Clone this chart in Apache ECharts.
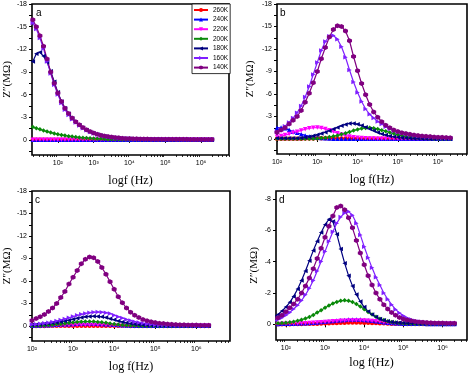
<!DOCTYPE html>
<html>
<head>
<meta charset="utf-8">
<script src="https://cdn.jsdelivr.net/npm/echarts@6/dist/echarts.min.js"></script>
<style>html,body{margin:0;padding:0;background:#fff}#c{width:474px;height:374px}</style>
</head>
<body>
<div id="c"></div>
<script>
// Frequencies (Hz)
const freq = [20, 25.1, 31.6, 39.8, 50.1, 63.1, 79.4,
  100, 126, 158, 200, 251, 316, 398, 501, 631, 794,
  1000, 1259, 1585, 1995, 2512, 3162, 3981, 5012, 6310, 7943,
  10000, 12589, 15849, 19953, 25119, 31623, 39811, 50119, 63096, 79433,
  100000, 125893, 158489, 199526, 251189, 316228, 398107, 501187, 630957, 794328,
  1000000, 1258925, 1584893, 1995262];

const names = ['260K', '240K', '220K', '200K', '180K', '160K', '140K'];

// Panel a
const a260 = [-0.01,-0.01,-0.01,-0.01,-0.01,-0.01,-0.01,
  -0.01,-0.01,-0.01,-0.01,-0.01,-0.01,-0.01,-0.01,-0.01,-0.01,
  -0.01,-0.01,-0.01,-0.01,-0.01,-0.01,-0.01,-0.01,-0.01,-0.01,
  -0.01,-0.01,-0.01,-0.01,-0.01,-0.01,-0.01,-0.01,-0.01,-0.01,
  -0.01,-0.01,-0.01,-0.01,-0.01,-0.01,-0.01,-0.01,-0.01,-0.01,
  -0.01,-0.01,-0.01,-0.01];
const a240 = [-0.02,-0.02,-0.02,-0.02,-0.02,-0.02,-0.02,
  -0.02,-0.02,-0.02,-0.02,-0.02,-0.02,-0.02,-0.02,-0.02,-0.02,
  -0.02,-0.02,-0.02,-0.02,-0.02,-0.02,-0.02,-0.02,-0.02,-0.02,
  -0.02,-0.02,-0.02,-0.02,-0.02,-0.02,-0.02,-0.02,-0.02,-0.02,
  -0.02,-0.02,-0.02,-0.02,-0.02,-0.02,-0.02,-0.02,-0.02,-0.02,
  -0.02,-0.02,-0.02,-0.02];
const a220 = [-0.03,-0.03,-0.03,-0.03,-0.03,-0.03,-0.03,
  -0.03,-0.03,-0.03,-0.03,-0.03,-0.03,-0.03,-0.03,-0.03,-0.03,
  -0.03,-0.03,-0.03,-0.03,-0.03,-0.03,-0.03,-0.03,-0.03,-0.03,
  -0.03,-0.03,-0.03,-0.03,-0.03,-0.03,-0.03,-0.03,-0.03,-0.03,
  -0.03,-0.03,-0.03,-0.03,-0.03,-0.03,-0.03,-0.03,-0.03,-0.03,
  -0.03,-0.03,-0.03,-0.03];
const a200 = [-1.7,-1.55,-1.4,-1.25,-1.1,-0.98,-0.86,
  -0.75,-0.66,-0.58,-0.5,-0.44,-0.38,-0.33,-0.29,-0.25,-0.22,
  -0.19,-0.16,-0.14,-0.12,-0.1,-0.09,-0.08,-0.07,-0.06,-0.06,
  -0.05,-0.05,-0.05,-0.05,-0.05,-0.05,-0.05,-0.05,-0.05,-0.05,
  -0.04,-0.04,-0.04,-0.04,-0.04,-0.04,-0.04,-0.04,-0.04,-0.04,
  -0.04,-0.04,-0.04,-0.04];
const a180 = [-10.4,-11.4,-11.6,-11.1,-10.3,-9.1,-7.7,
  -6.3,-5.1,-4.2,-3.45,-2.85,-2.35,-1.95,-1.6,-1.3,-1.05,
  -0.85,-0.7,-0.57,-0.47,-0.39,-0.32,-0.27,-0.22,-0.19,-0.16,
  -0.14,-0.12,-0.11,-0.1,-0.09,-0.08,-0.08,-0.07,-0.07,-0.06,
  -0.06,-0.06,-0.05,-0.05,-0.05,-0.05,-0.05,-0.04,-0.04,-0.04,
  -0.04,-0.04,-0.04,-0.04];
const a160 = [-15.5,-14.7,-13.5,-12.1,-10.4,-8.8,-7.3,
  -6.0,-4.9,-4.0,-3.3,-2.75,-2.3,-1.9,-1.55,-1.28,-1.05,
  -0.86,-0.72,-0.6,-0.5,-0.42,-0.35,-0.3,-0.26,-0.22,-0.19,
  -0.17,-0.15,-0.13,-0.12,-0.11,-0.1,-0.1,-0.09,-0.09,-0.08,
  -0.08,-0.07,-0.07,-0.07,-0.06,-0.06,-0.06,-0.06,-0.05,-0.05,
  -0.05,-0.05,-0.05,-0.05];
const a140 = [-15.9,-15.0,-13.8,-12.4,-10.7,-9.0,-7.5,
  -6.2,-5.1,-4.2,-3.5,-2.9,-2.4,-2.0,-1.65,-1.35,-1.1,
  -0.9,-0.75,-0.62,-0.52,-0.44,-0.37,-0.31,-0.27,-0.23,-0.2,
  -0.18,-0.16,-0.14,-0.13,-0.12,-0.11,-0.1,-0.1,-0.09,-0.09,
  -0.08,-0.08,-0.08,-0.07,-0.07,-0.07,-0.07,-0.06,-0.06,-0.06,
  -0.06,-0.06,-0.05,-0.05];

// Panel b
const b260 = [null,null,null,null,null,null,null,
  -0.02,-0.02,-0.02,-0.03,-0.03,-0.04,-0.05,-0.06,-0.07,-0.08,
  -0.09,-0.1,-0.1,-0.1,-0.09,-0.08,-0.07,-0.06,-0.05,-0.04,
  -0.03,-0.03,-0.02,-0.02,-0.02,-0.02,-0.02,-0.02,-0.02,-0.02,
  -0.02,-0.02,-0.02,-0.02,-0.02,-0.02,-0.02,-0.02,-0.02,-0.02,
  -0.02,-0.02,-0.02,-0.02];
const b240 = [null,null,null,null,null,null,null,
  -1.5,-1.52,-1.42,-1.22,-1.0,-0.82,-0.64,-0.48,-0.35,-0.25,
  -0.18,-0.13,-0.09,-0.07,-0.05,-0.04,-0.03,-0.03,-0.03,-0.03,
  -0.02,-0.02,-0.02,-0.02,-0.02,-0.02,-0.02,-0.02,-0.02,-0.02,
  -0.02,-0.02,-0.02,-0.02,-0.02,-0.02,-0.02,-0.02,-0.02,-0.02,
  -0.02,-0.02,-0.02,-0.02];
const b220 = [null,null,null,null,null,null,null,
  -0.3,-0.4,-0.52,-0.66,-0.82,-0.98,-1.14,-1.3,-1.42,-1.5,
  -1.52,-1.46,-1.34,-1.18,-0.98,-0.78,-0.6,-0.46,-0.34,-0.25,
  -0.18,-0.13,-0.1,-0.08,-0.06,-0.05,-0.05,-0.04,-0.04,-0.04,
  -0.03,-0.03,-0.03,-0.03,-0.03,-0.03,-0.03,-0.03,-0.03,-0.03,
  -0.03,-0.03,-0.03,-0.03];
const b200 = [null,null,null,null,null,null,null,
  -0.03,-0.03,-0.03,-0.03,-0.03,-0.03,-0.03,-0.03,-0.03,-0.05,
  -0.08,-0.12,-0.18,-0.26,-0.36,-0.48,-0.62,-0.78,-0.95,-1.12,
  -1.28,-1.4,-1.48,-1.5,-1.45,-1.34,-1.18,-1.03,-0.88,-0.72,
  -0.58,-0.46,-0.36,-0.28,-0.21,-0.16,-0.12,-0.09,-0.07,-0.05,
  -0.05,-0.04,-0.04,-0.04];
const b180 = [null,null,null,null,null,null,null,
  -0.1,-0.1,-0.1,-0.1,-0.1,-0.1,-0.15,-0.2,-0.3,-0.42,
  -0.56,-0.72,-0.9,-1.1,-1.32,-1.55,-1.76,-1.95,-2.08,-2.08,
  -1.98,-1.8,-1.58,-1.34,-1.1,-0.88,-0.68,-0.52,-0.39,-0.29,
  -0.22,-0.16,-0.12,-0.09,-0.07,-0.06,-0.05,-0.05,-0.04,-0.04,
  -0.04,-0.04,-0.03,-0.03];
const b160 = [null,null,null,null,null,null,null,
  -1.0,-1.3,-1.7,-2.2,-2.8,-3.5,-4.4,-5.6,-7.0,-8.6,
  -10.2,-11.8,-13.0,-13.7,-13.8,-13.3,-12.3,-10.9,-9.2,-7.6,
  -6.2,-5.0,-4.0,-3.3,-2.8,-2.35,-2.0,-1.65,-1.35,-1.1,
  -0.92,-0.78,-0.66,-0.56,-0.48,-0.41,-0.35,-0.3,-0.26,-0.22,
  -0.19,-0.17,-0.15,-0.13];
const b140 = [null,null,null,null,null,null,null,
  -0.9,-1.2,-1.5,-2.0,-2.5,-3.0,-3.8,-4.9,-6.1,-7.5,
  -9.0,-10.7,-12.2,-13.6,-14.6,-15.1,-15.0,-14.4,-13.1,-11.0,
  -9.1,-7.4,-5.9,-4.6,-3.6,-2.9,-2.3,-1.85,-1.5,-1.2,
  -1.0,-0.85,-0.72,-0.62,-0.54,-0.47,-0.41,-0.36,-0.32,-0.28,
  -0.25,-0.22,-0.2,-0.18];

// Panel c
const c260 = [null,null,null,null,null,null,null,
  -0.01,-0.01,-0.01,-0.01,-0.02,-0.02,-0.02,-0.03,-0.03,-0.04,
  -0.04,-0.05,-0.05,-0.05,-0.05,-0.05,-0.05,-0.04,-0.04,-0.03,
  -0.03,-0.02,-0.02,-0.02,-0.01,-0.01,-0.01,-0.01,-0.01,-0.01,
  -0.01,-0.01,-0.01,-0.01,-0.01,-0.01,-0.01,-0.01,-0.01,-0.01,
  -0.01,-0.01,-0.01,-0.01];
const c240 = [null,null,null,null,null,null,null,
  -0.05,-0.06,-0.07,-0.09,-0.11,-0.13,-0.16,-0.19,-0.22,-0.25,
  -0.28,-0.3,-0.32,-0.33,-0.33,-0.32,-0.3,-0.27,-0.24,-0.2,
  -0.16,-0.13,-0.1,-0.08,-0.06,-0.05,-0.04,-0.03,-0.03,-0.03,
  -0.02,-0.02,-0.02,-0.02,-0.02,-0.02,-0.02,-0.02,-0.02,-0.02,
  -0.02,-0.02,-0.02,-0.02];
const c220 = [null,null,null,null,null,null,null,
  -0.02,-0.02,-0.03,-0.03,-0.04,-0.05,-0.06,-0.07,-0.08,-0.1,
  -0.11,-0.12,-0.13,-0.14,-0.15,-0.15,-0.14,-0.13,-0.12,-0.1,
  -0.08,-0.07,-0.05,-0.04,-0.03,-0.03,-0.02,-0.02,-0.02,-0.02,
  -0.02,-0.02,-0.02,-0.02,-0.02,-0.02,-0.02,-0.02,-0.02,-0.02,
  -0.02,-0.02,-0.02,-0.02];
const c200 = [null,null,null,null,null,null,null,
  -0.05,-0.06,-0.08,-0.1,-0.13,-0.17,-0.22,-0.28,-0.34,-0.4,
  -0.46,-0.52,-0.56,-0.59,-0.6,-0.59,-0.55,-0.49,-0.42,-0.34,
  -0.27,-0.2,-0.15,-0.11,-0.08,-0.06,-0.05,-0.04,-0.04,-0.03,
  -0.03,-0.03,-0.03,-0.03,-0.03,-0.03,-0.03,-0.03,-0.03,-0.03,
  -0.03,-0.03,-0.03,-0.03];
const c180 = [null,null,null,null,null,null,null,
  -0.15,-0.18,-0.22,-0.27,-0.33,-0.4,-0.48,-0.57,-0.67,-0.78,
  -0.9,-1.02,-1.13,-1.22,-1.28,-1.3,-1.28,-1.22,-1.12,-0.98,
  -0.83,-0.68,-0.54,-0.42,-0.32,-0.24,-0.18,-0.14,-0.11,-0.09,
  -0.07,-0.06,-0.06,-0.05,-0.05,-0.05,-0.04,-0.04,-0.04,-0.04,
  -0.04,-0.04,-0.04,-0.04];
const c160 = [null,null,null,null,null,null,null,
  -0.2,-0.25,-0.3,-0.36,-0.44,-0.54,-0.66,-0.8,-0.95,-1.1,
  -1.26,-1.42,-1.56,-1.68,-1.78,-1.84,-1.86,-1.84,-1.78,-1.66,
  -1.45,-1.25,-1.06,-0.88,-0.72,-0.58,-0.46,-0.36,-0.28,-0.22,
  -0.18,-0.15,-0.12,-0.1,-0.09,-0.08,-0.07,-0.07,-0.06,-0.06,
  -0.05,-0.05,-0.05,-0.05];
const c140 = [null,null,null,null,null,null,null,
  -0.75,-1.0,-1.25,-1.55,-1.95,-2.4,-3.0,-3.8,-4.6,-5.6,
  -6.5,-7.4,-8.3,-8.9,-9.2,-9.1,-8.6,-7.8,-6.9,-5.9,
  -4.9,-3.9,-3.1,-2.4,-1.85,-1.45,-1.12,-0.88,-0.7,-0.56,
  -0.46,-0.38,-0.32,-0.27,-0.23,-0.2,-0.18,-0.16,-0.14,-0.13,
  -0.12,-0.11,-0.1,-0.1];

// Panel d
const d260 = [null,null,null,null,-0.01,-0.01,-0.01,
  -0.01,-0.01,-0.02,-0.02,-0.02,-0.03,-0.03,-0.04,-0.04,-0.05,
  -0.06,-0.07,-0.08,-0.09,-0.1,-0.1,-0.11,-0.11,-0.11,-0.11,
  -0.1,-0.1,-0.09,-0.08,-0.07,-0.06,-0.05,-0.04,-0.03,-0.03,
  -0.02,-0.02,-0.02,-0.02,-0.02,-0.02,-0.02,-0.02,-0.02,-0.02,
  -0.02,-0.02,-0.02,-0.02];
const d240 = [null,null,null,null,-0.02,-0.02,-0.03,
  -0.03,-0.04,-0.04,-0.05,-0.06,-0.07,-0.08,-0.1,-0.12,-0.14,
  -0.16,-0.19,-0.21,-0.24,-0.26,-0.28,-0.3,-0.31,-0.31,-0.3,
  -0.28,-0.26,-0.23,-0.2,-0.16,-0.13,-0.1,-0.08,-0.06,-0.05,
  -0.04,-0.04,-0.03,-0.03,-0.03,-0.03,-0.02,-0.02,-0.02,-0.02,
  -0.02,-0.02,-0.02,-0.02];
const d220 = [null,null,null,null,-0.02,-0.02,-0.03,
  -0.03,-0.04,-0.04,-0.05,-0.06,-0.07,-0.08,-0.1,-0.11,-0.13,
  -0.15,-0.17,-0.19,-0.2,-0.22,-0.23,-0.24,-0.25,-0.25,-0.25,
  -0.24,-0.23,-0.21,-0.19,-0.16,-0.13,-0.1,-0.08,-0.06,-0.05,
  -0.04,-0.03,-0.03,-0.03,-0.02,-0.02,-0.02,-0.02,-0.02,-0.02,
  -0.02,-0.02,-0.02,-0.02];
const d200 = [null,null,null,null,-0.04,-0.06,-0.08,
  -0.1,-0.13,-0.17,-0.22,-0.29,-0.37,-0.47,-0.6,-0.75,-0.9,
  -1.05,-1.2,-1.33,-1.43,-1.5,-1.53,-1.5,-1.42,-1.3,-1.14,
  -0.96,-0.78,-0.62,-0.48,-0.36,-0.27,-0.2,-0.15,-0.11,-0.08,
  -0.06,-0.05,-0.05,-0.04,-0.04,-0.04,-0.03,-0.03,-0.03,-0.03,
  -0.03,-0.03,-0.03,-0.03];
const d180 = [null,null,null,null,-0.5,-0.62,-0.85,
  -1.1,-1.4,-1.78,-2.25,-2.8,-3.4,-4.05,-4.7,-5.3,-5.85,
  -6.35,-6.7,-6.55,-5.75,-4.8,-3.9,-3.1,-2.45,-1.9,-1.45,
  -1.1,-0.82,-0.62,-0.46,-0.34,-0.26,-0.2,-0.15,-0.12,-0.1,
  -0.08,-0.07,-0.06,-0.06,-0.05,-0.05,-0.05,-0.04,-0.04,-0.04,
  -0.04,-0.04,-0.04,-0.04];
const d160 = [null,null,null,null,-0.2,-0.3,-0.42,
  -0.58,-0.76,-0.98,-1.22,-1.52,-1.88,-2.3,-2.8,-3.4,-4.0,
  -4.65,-5.3,-5.9,-6.45,-6.85,-7.1,-7.2,-6.95,-6.45,-5.7,
  -4.95,-4.25,-3.6,-3.0,-2.5,-2.0,-1.6,-1.25,-0.95,-0.72,
  -0.54,-0.4,-0.3,-0.23,-0.18,-0.14,-0.11,-0.09,-0.08,-0.07,
  -0.06,-0.06,-0.05,-0.05];
const d140 = [null,null,null,null,-0.3,-0.42,-0.58,
  -0.8,-1.05,-1.3,-1.6,-2.0,-2.45,-2.95,-3.55,-4.2,-4.85,
  -5.55,-6.25,-6.9,-7.45,-7.55,-7.3,-6.8,-6.15,-5.35,-4.55,
  -3.8,-3.1,-2.5,-2.0,-1.6,-1.25,-0.98,-0.76,-0.58,-0.44,
  -0.34,-0.27,-0.22,-0.18,-0.15,-0.13,-0.11,-0.1,-0.09,-0.08,
  -0.08,-0.07,-0.07,-0.06];

// Tick labels
const xMajor = [100, 1000, 10000, 100000, 1000000];
const xMajorLabels = ['10²', '10³', '10⁴', '10⁵', '10⁶'];
const xMinor = [20,30,40,50,60,70,80,90, 200,300,400,500,600,700,800,900,
  2000,3000,4000,5000,6000,7000,8000,9000, 20000,30000,40000,50000,60000,70000,80000,90000,
  200000,300000,400000,500000,600000,700000,800000,900000,
  2000000,3000000,4000000,5000000,6000000];
const yTicksABC = [-18, -15, -12, -9, -6, -3, 0];
const yMinorABC = [-16.5, -13.5, -10.5, -7.5, -4.5, -1.5, 1.5];
const yTicksD = [-8, -6, -4, -2, 0];

const colors = ['#ff0000', '#0000ff', '#ff00ff', '#0a8a0a', '#000080', '#7f1fff', '#800080'];
const hex = 'path://M0,-1L0.866,-0.5L0.866,0.5L0,1L-0.866,0.5L-0.866,-0.5Z';
const symbols = ['circle', 'triangle', 'triangle', 'diamond', 'triangle', 'triangle', hex];
const rotates = [0, 0, 180, 0, 90, -90, 0];

const panels = [
  { grid: { left: 32, top: 4, width: 197, height: 151 }, xmin: 19, xmax: 6.0e6, ymin: -18, ymax: 2,
    series: [a260, a240, a220, a200, a180, a160, a140], xname: 'logf (Hz)', xgap: 20, ygap: 16, letter: 'a', lx: 36, ly: 8 },
  { grid: { left: 277, top: 4, width: 190, height: 150 }, xmin: 100, xmax: 5.2e6, ymin: -18, ymax: 2,
    series: [b260, b240, b220, b200, b180, b160, b140], xname: 'log f(Hz)', xgap: 20, ygap: 21, letter: 'b', lx: 280, ly: 8 },
  { grid: { left: 32, top: 191, width: 198, height: 151 }, xmin: 100, xmax: 6.6e6, ymin: -18, ymax: 2,
    series: [c260, c240, c220, c200, c180, c160, c140], xname: 'log f(Hz)', xgap: 20, ygap: 16, letter: 'c', lx: 35, ly: 195 },
  { grid: { left: 276, top: 191, width: 191, height: 149 }, xmin: 56, xmax: 4.2e6, ymin: -8.5, ymax: 1,
    series: [d260, d240, d220, d200, d180, d160, d140], xname: 'log f(Hz)', xgap: 17, ygap: 16, letter: 'd', lx: 279, ly: 195 }
];

const sans = 'Liberation Sans';
const serif = 'Liberation Serif';

const grids = [], xAxes = [], yAxes = [], series = [], graphics = [];
panels.forEach((p, pi) => {
  grids.push(Object.assign({ show: true, borderColor: '#000', borderWidth: 1.6, backgroundColor: 'transparent' }, p.grid));
  xAxes.push({
    type: 'log', logBase: 10, gridIndex: pi, position: 'bottom', min: p.xmin, max: p.xmax,
    axisLine: { show: false },
    axisTick: { show: true, customValues: xMajor, length: 3, lineStyle: { color: '#000', width: 1 } },
    axisLabel: { show: true, customValues: xMajor, margin: 5, fontSize: 7, fontFamily: sans, color: '#000',
      formatter: v => { const k = xMajor.findIndex(t => Math.abs(t - v) / t < 1e-6); return k >= 0 ? xMajorLabels[k] : ''; } },
    splitLine: { show: false },
    name: p.xname, nameLocation: 'middle', nameGap: p.xgap,
    nameTextStyle: { fontFamily: serif, fontSize: 12, color: '#000' }
  });
  xAxes.push({
    type: 'log', logBase: 10, gridIndex: pi, position: 'bottom', min: p.xmin, max: p.xmax,
    axisLine: { show: false },
    axisTick: { show: true, customValues: xMinor, length: 2, lineStyle: { color: '#000', width: 0.8 } },
    axisLabel: { show: false }, splitLine: { show: false }
  });
  const isD = pi === 3;
  yAxes.push({
    type: 'value', gridIndex: pi, inverse: true, min: p.ymin, max: p.ymax,
    axisLine: { show: false },
    axisTick: { show: true, customValues: isD ? yTicksD : yTicksABC.concat(yMinorABC), length: 3, lineStyle: { color: '#000', width: 1 } },
    axisLabel: { show: true, customValues: isD ? yTicksD : yTicksABC, margin: 5, fontSize: 7, fontFamily: sans, color: '#000' },
    splitLine: { show: false },
    name: 'Z″(MΩ)', nameLocation: 'middle', nameGap: p.ygap,
    nameTextStyle: { fontFamily: serif, fontSize: 11, color: '#000' }
  });
  p.series.forEach((vals, si) => {
    const data = [];
    vals.forEach((v, i) => { if (v !== null && v !== undefined) data.push([freq[i], v]); });
    series.push({
      type: 'line', name: names[si], xAxisIndex: pi * 2, yAxisIndex: pi, data,
      symbol: symbols[si], symbolRotate: rotates[si], symbolSize: si === 6 ? 5 : 4.5,
      showSymbol: true, clip: true,
      itemStyle: { color: colors[si] },
      lineStyle: { color: colors[si], width: 1.2 },
      emphasis: { disabled: true }, animation: false
    });
  });
  graphics.push({ type: 'text', left: p.lx, top: p.ly, style: { text: p.letter, fontSize: 10, fontFamily: sans, fill: '#000' } });
});

const chart = echarts.init(document.getElementById('c'), null, { renderer: 'canvas' });
chart.setOption({
  animation: false,
  backgroundColor: '#fff',
  grid: grids, xAxis: xAxes, yAxis: yAxes, series,
  graphic: graphics,
  legend: {
    data: names, orient: 'vertical', left: 192, top: 4,
    itemWidth: 14, itemHeight: 5, itemGap: 1.6,
    padding: [2, 2, 2, 1],
    borderColor: '#000', borderWidth: 0.8, backgroundColor: '#fff',
    selectedMode: false,
    textStyle: { fontSize: 6.5, fontFamily: sans, color: '#000', lineHeight: 8 }
  }
});
</script>
</body>
</html>
